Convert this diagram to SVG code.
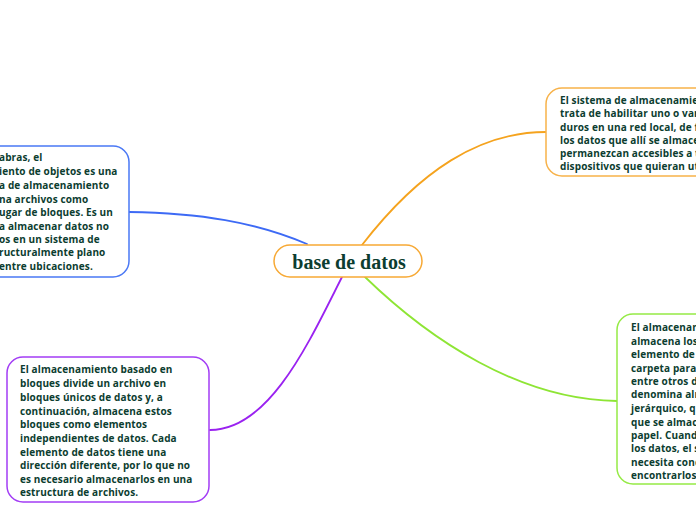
<svg xmlns="http://www.w3.org/2000/svg" width="696" height="520" viewBox="0 0 696 520">
<style>
.t{font-family:"Open Sans","Noto Sans","Liberation Sans",sans-serif;font-size:10px;font-weight:bold;fill:#0c3d30;letter-spacing:0.12px;}
.box{fill:#fff;stroke-width:1.5;}
.c{fill:none;stroke-width:1.8;stroke-linecap:round;}
</style>
<rect width="696" height="520" fill="#fff"/>
<g id="connectors">
<path class="c" d="M129,212 C200,213 255,222 307,244" stroke="#3d6af5"/>
<path class="c" d="M362,245 C420,170 480,132 546,132" stroke="#f5a31e"/>
<path class="c" d="M342,277 C310,340 270,430 210,430" stroke="#9a22f0"/>
<path class="c" d="M365,277 C430,340 520,400 617,401" stroke="#8ee535"/>
</g>
<g id="center">
<rect class="box" x="274" y="245" width="148" height="32" rx="16" stroke="#f7a935"/>
<text x="349" y="268.5" text-anchor="middle" style="font-family:'Liberation Serif','DejaVu Serif',serif;font-size:20px;font-weight:bold;fill:#0c3d30">base de datos</text>
</g>
<g id="node-blue">
<rect class="box" x="-60" y="146" width="189" height="131" rx="16" stroke="#4a78f5"/>
<text class="t" x="-1" y="161">abras, el</text>
<text class="t" x="-1" y="175">iento de objetos es una</text>
<text class="t" x="-1" y="189">a de almacenamiento</text>
<text class="t" x="-1" y="203">na archivos como</text>
<text class="t" x="-1" y="216">ugar de bloques. Es un</text>
<text class="t" x="-1" y="230">a almacenar datos no</text>
<text class="t" x="-1" y="243">os en un sistema de</text>
<text class="t" x="-1" y="256">ructuralmente plano</text>
<text class="t" x="-1" y="270">entre ubicaciones.</text>
</g>
<g id="node-orange">
<rect class="box" x="546" y="88" width="200" height="88" rx="16" stroke="#f7b24a"/>
<text class="t" x="560" y="104">El sistema de almacenamient</text>
<text class="t" x="560" y="117">trata de habilitar uno o vario</text>
<text class="t" x="560" y="131">duros en una red local, de for</text>
<text class="t" x="560" y="144">los datos que allí se almacene</text>
<text class="t" x="560" y="157">permanezcan accesibles a tod</text>
<text class="t" x="560" y="170">dispositivos que quieran utili</text>
</g>
<g id="node-purple">
<rect class="box" x="7" y="357" width="202" height="145" rx="16" stroke="#a23cf5"/>
<text class="t" x="20" y="373">El almacenamiento basado en</text>
<text class="t" x="20" y="387">bloques divide un archivo en</text>
<text class="t" x="20" y="401">bloques únicos de datos y, a</text>
<text class="t" x="20" y="415">continuación, almacena estos</text>
<text class="t" x="20" y="428">bloques como elementos</text>
<text class="t" x="20" y="442">independientes de datos. Cada</text>
<text class="t" x="20" y="456">elemento de datos tiene una</text>
<text class="t" x="20" y="469">dirección diferente, por lo que no</text>
<text class="t" x="20" y="483">es necesario almacenarlos en una</text>
<text class="t" x="20" y="496">estructura de archivos.</text>
</g>
<g id="node-green">
<rect class="box" x="617" y="314" width="140" height="170" rx="16" stroke="#95ea45"/>
<text class="t" x="631" y="331">El almacenam</text>
<text class="t" x="631" y="345">almacena los</text>
<text class="t" x="631" y="358">elemento de</text>
<text class="t" x="631" y="372">carpeta para</text>
<text class="t" x="631" y="385">entre otros d</text>
<text class="t" x="631" y="398">denomina alm</text>
<text class="t" x="631" y="412">jerárquico, q</text>
<text class="t" x="631" y="426">que se almac</text>
<text class="t" x="631" y="439">papel. Cuand</text>
<text class="t" x="631" y="452">los datos, el s</text>
<text class="t" x="631" y="466">necesita cond</text>
<text class="t" x="631" y="479">encontrarlos.</text>
</g>
</svg>
